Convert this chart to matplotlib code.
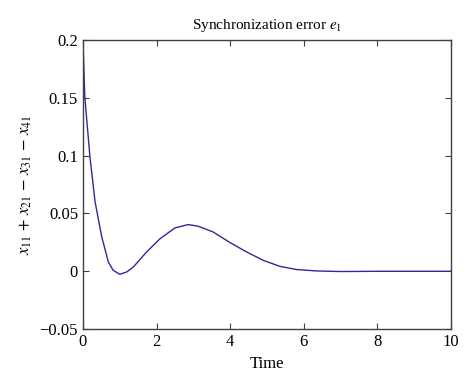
import numpy as np
import matplotlib
matplotlib.use("Agg")
import matplotlib.pyplot as plt

# values
time = [0.0, 0.05, 0.19, 0.33, 0.51, 0.69, 0.82, 1.0, 1.19, 1.37, 1.73, 2.09,
        2.5, 2.86, 3.13, 3.54, 3.99, 4.45, 4.9, 5.35, 5.81, 6.35, 7.0, 8.0, 10.0]
error = [0.2, 0.151, 0.099, 0.060, 0.030, 0.008, 0.0009, -0.0026, -0.0006,
         0.0037, 0.0167, 0.028, 0.0375, 0.0404, 0.039, 0.034, 0.025, 0.0167,
         0.0095, 0.0043, 0.0015, 0.0003, -0.0002, 0.0, 0.0]
xticks = [0, 2, 4, 6, 8, 10]
yticks = [-0.05, 0, 0.05, 0.1, 0.15, 0.2]
ytick_labels = ["\u22120.05", "0", "0.05", "0.1", "0.15", "0.2"]

plt.rcParams['font.family'] = ['Liberation Serif', 'DejaVu Serif']
plt.rcParams['mathtext.fontset'] = 'stix'

fig = plt.figure(figsize=(4.74, 3.89), dpi=100)
ax = fig.add_axes([0.175, 0.154, 0.776, 0.743])
ax.plot(time, error, color='#2b2b9a', linewidth=1.0)

ax.set_xlim(0, 10)
ax.set_ylim(-0.05, 0.2)
ax.set_xticks(xticks)
ax.set_xticklabels([str(t) for t in xticks])
ax.set_yticks(yticks)
ax.set_yticklabels(ytick_labels)
ax.tick_params(direction='in', top=True, right=True, labelsize=12,
               length=4, width=0.8, color='#404040')
for s in ax.spines.values():
    s.set_color('#404040')
    s.set_linewidth(1.0)

ax.set_title("Synchronization error $e_1$", fontsize=11, pad=8)
ax.set_xlabel("Time", fontsize=12, labelpad=4)
ax.set_ylabel("$x_{11}\\,+\\,x_{21}\\,-\\,x_{31}\\,-\\,x_{41}$", fontsize=12, labelpad=4)

fig.savefig("out.png", dpi=100, facecolor='white')
